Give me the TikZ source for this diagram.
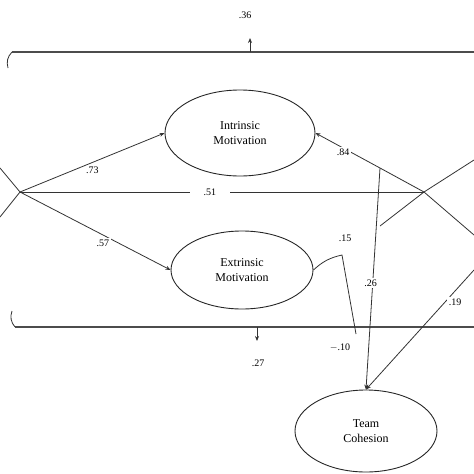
\documentclass[tikz,border=0pt]{standalone}
\usepackage{fontspec}
\setmainfont{Liberation Serif}
\usetikzlibrary{arrows.meta,shapes.geometric}
\begin{document}
\begin{tikzpicture}[x=1pt,y=-1pt,
  latent/.style={draw=black!85,line width=0.9pt,ellipse,minimum width=#1,align=center,font=\fontsize{12}{15}\selectfont,inner sep=0pt},
  path/.style={draw=black!80,line width=0.8pt,-{Stealth[length=5pt,width=4pt]}},
  plain/.style={draw=black!80,line width=0.8pt},
  bar/.style={draw=black!70,line width=1.6pt},
  lab/.style={font=\fontsize{10}{11}\selectfont,fill=white,inner sep=1.5pt}]
\useasboundingbox (0,0) rectangle (474,474);
% coordinates of hubs and edges
\coordinate (L) at (20,192);
\coordinate (R) at (424,192);
\coordinate (Lup) at (0,168);
\coordinate (Ldn) at (0,217);
\coordinate (Rup) at (474,160);
\coordinate (Rdn) at (474,235);
% latent ellipses
\node[latent=150pt,minimum height=86pt] (IM) at (240,133) {Intrinsic\\Motivation};
\node[latent=142pt,minimum height=78pt] (EM) at (242,270) {Extrinsic\\Motivation};
\node[latent=142pt,minimum height=82pt] (TC) at (366,431) {Team\\Cohesion};
% top and bottom long covariance lines
\coordinate (T0) at (12,52);
\coordinate (T1) at (474,52);
\coordinate (Tc) at (8,68);
\coordinate (Tm) at (250,52);
\coordinate (B0) at (15,327);
\coordinate (B1) at (474,327);
\coordinate (Bc) at (12,311);
\coordinate (Bm) at (257,327);
\draw[bar] (T0) -- (T1);
\draw[plain] (T0) to[bend right=30] (Tc);
\draw[plain,-{Stealth[length=5pt,width=4pt]}] (Tm) -- ++(0,-14);
\node[lab] (t36) at (245,15) {.36};
\draw[bar] (B0) -- (B1);
\draw[plain] (B0) to[bend left=30] (Bc);
\draw[plain,-{Stealth[length=5pt,width=4pt]}] (Bm) -- ++(0,14);
\node[lab] (t27) at (258,363) {.27};
% left hub
\draw[plain] (L) -- (Lup);
\draw[plain] (L) -- (Ldn);
\draw[path] (L) -- node[lab,pos=0.5,yshift=-8pt] (l73) {.73} (IM.west);
\draw[plain] (L) -- node[lab,pos=0.47,inner xsep=14pt] (l51) {.51} (R);
\draw[path] (L) -- node[lab,pos=0.55,yshift=-8pt] (l57) {.57} (EM.west);
% right hub
\draw[plain] (R) -- (Rup);
\draw[plain] (R) -- (Rdn);
\coordinate (V0) at (380,168);
\coordinate (V1) at (380,226);
\coordinate (E1) at (342,255);
\coordinate (E2) at (356,334);
\coordinate (D0) at (474,270);
\draw[path] (R) -- (V0) -- (IM.east);
\node[lab] (l84) at (343,152) {.84};
\draw[path] (V0) -- node[lab,pos=0.52,xshift=-2pt] (l26) {.26} (TC.north);
\draw[plain] (R) -- (V1);
\draw[plain] (EM.east) to[bend left=15] (E1) -- (E2);
\node[lab] (l15) at (345,238) {.15};
\node[lab] (l10) at (340,348) {$-$.10};
\draw[path] (D0) -- (TC.north);
\node[lab] (l19) at (455,302) {.19};
\end{tikzpicture}
\end{document}
